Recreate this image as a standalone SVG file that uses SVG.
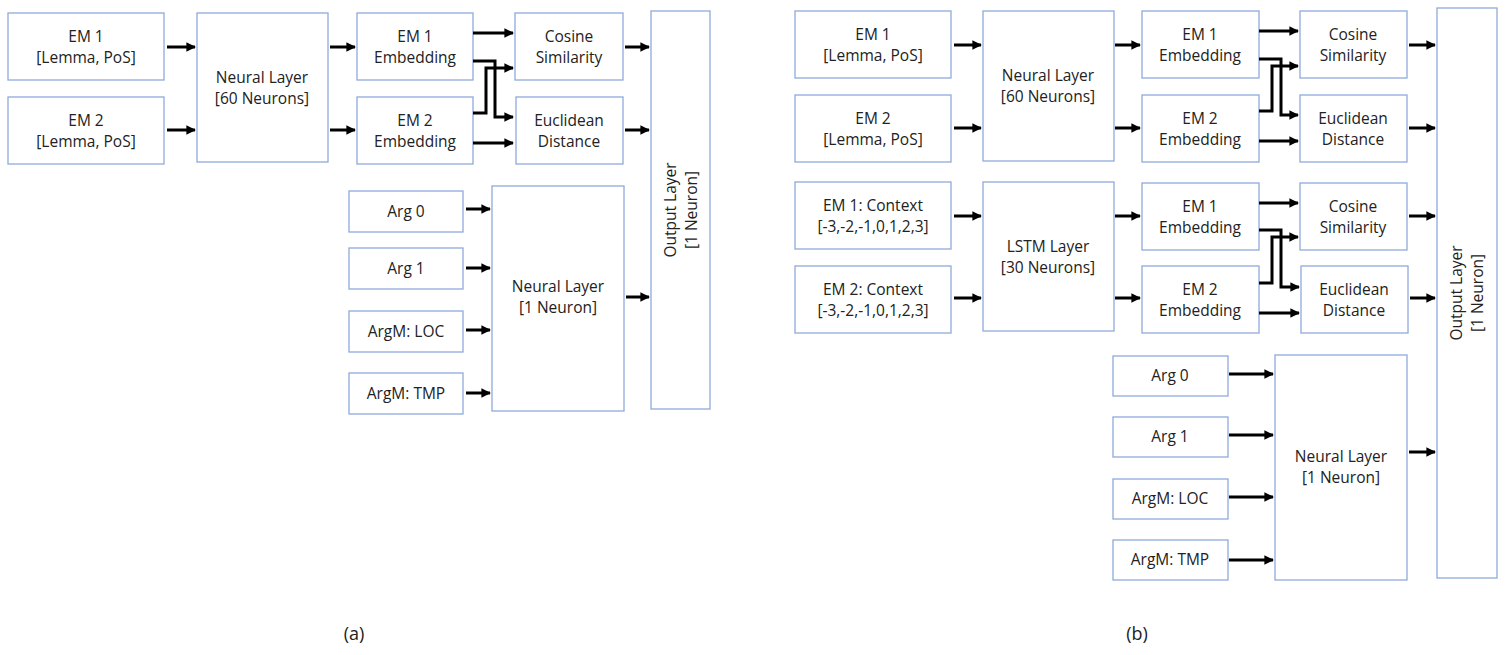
<svg xmlns="http://www.w3.org/2000/svg" width="1506" height="655" viewBox="0 0 1506 655">
<style>
rect{fill:#fff;stroke:#8faadc;stroke-width:1.3}
text{font-family:"Open Sans","Liberation Sans",sans-serif;font-size:15.5px;fill:#222;text-anchor:middle}
.c path,.c line{stroke:#000;stroke-width:3;fill:none;marker-end:url(#a)}
.lbl{font-size:18px}
</style>
<defs><marker id="a" viewBox="0 0 10 10" refX="9" refY="5" markerWidth="3.2" markerHeight="3.2" orient="auto" markerUnits="strokeWidth"><path d="M0,0L10,5L0,10z" fill="#000"/></marker></defs>
<rect width="1506" height="655" style="stroke:none"/>
<!-- panel a -->
<g id="a_em1"><rect x="8" y="13" width="156" height="67"/><text x="86" y="42">EM 1</text><text x="86" y="63">[Lemma, PoS]</text></g>
<g id="a_em2"><rect x="8" y="97" width="156" height="67"/><text x="86" y="126">EM 2</text><text x="86" y="147">[Lemma, PoS]</text></g>
<g id="a_nl"><rect x="197" y="13" width="131" height="149"/><text x="262" y="83">Neural Layer</text><text x="262" y="104">[60 Neurons]</text></g>
<g id="a_e1"><rect x="357" y="13" width="116" height="67"/><text x="415" y="42">EM 1</text><text x="415" y="63">Embedding</text></g>
<g id="a_e2"><rect x="357" y="97" width="116" height="67"/><text x="415" y="126">EM 2</text><text x="415" y="147">Embedding</text></g>
<g id="a_cos"><rect x="515" y="13" width="108" height="67"/><text x="569" y="42">Cosine</text><text x="569" y="63">Similarity</text></g>
<g id="a_euc"><rect x="516" y="97" width="107" height="67"/><text x="569" y="126">Euclidean</text><text x="569" y="147">Distance</text></g>
<g id="a_out"><rect x="651" y="11" width="59" height="398"/><text transform="translate(676,210) rotate(-90)">Output Layer</text><text transform="translate(697,210) rotate(-90)">[1 Neuron]</text></g>
<g id="a_arg0"><rect x="349" y="191" width="114" height="41"/><text x="406" y="217">Arg 0</text></g>
<g id="a_arg1"><rect x="349" y="248" width="114" height="41"/><text x="406" y="274">Arg 1</text></g>
<g id="a_loc"><rect x="349" y="311" width="114" height="41"/><text x="406" y="337">ArgM: LOC</text></g>
<g id="a_tmp"><rect x="349" y="373" width="114" height="41"/><text x="406" y="399">ArgM: TMP</text></g>
<g id="a_nl1"><rect x="492" y="186" width="132" height="225"/><text x="558" y="292">Neural Layer</text><text x="558" y="313">[1 Neuron]</text></g>
<!-- panel b -->
<g id="b_em1"><rect x="795" y="11" width="156" height="67"/><text x="873" y="40">EM 1</text><text x="873" y="61">[Lemma, PoS]</text></g>
<g id="b_em2"><rect x="795" y="95" width="156" height="67"/><text x="873" y="124">EM 2</text><text x="873" y="145">[Lemma, PoS]</text></g>
<g id="b_nl"><rect x="983" y="11" width="131" height="150"/><text x="1048" y="81">Neural Layer</text><text x="1048" y="102">[60 Neurons]</text></g>
<g id="b_e1"><rect x="1142" y="11" width="117" height="67"/><text x="1200" y="40">EM 1</text><text x="1200" y="61">Embedding</text></g>
<g id="b_e2"><rect x="1142" y="95" width="117" height="67"/><text x="1200" y="124">EM 2</text><text x="1200" y="145">Embedding</text></g>
<g id="b_cos"><rect x="1300" y="11" width="107" height="67"/><text x="1353" y="40">Cosine</text><text x="1353" y="61">Similarity</text></g>
<g id="b_euc"><rect x="1300" y="95" width="107" height="67"/><text x="1353" y="124">Euclidean</text><text x="1353" y="145">Distance</text></g>
<g id="b_c1"><rect x="795" y="182" width="156" height="67"/><text x="873" y="211">EM 1: Context</text><text x="873" y="232">[-3,-2,-1,0,1,2,3]</text></g>
<g id="b_c2"><rect x="795" y="266" width="156" height="67"/><text x="873" y="295">EM 2: Context</text><text x="873" y="316">[-3,-2,-1,0,1,2,3]</text></g>
<g id="b_lstm"><rect x="983" y="182" width="131" height="149"/><text x="1048" y="252">LSTM Layer</text><text x="1048" y="273">[30 Neurons]</text></g>
<g id="b_e3"><rect x="1142" y="183" width="117" height="67"/><text x="1200" y="212">EM 1</text><text x="1200" y="233">Embedding</text></g>
<g id="b_e4"><rect x="1142" y="266" width="117" height="67"/><text x="1200" y="295">EM 2</text><text x="1200" y="316">Embedding</text></g>
<g id="b_cos2"><rect x="1300" y="183" width="107" height="67"/><text x="1353" y="212">Cosine</text><text x="1353" y="233">Similarity</text></g>
<g id="b_euc2"><rect x="1301" y="266" width="107" height="67"/><text x="1354" y="295">Euclidean</text><text x="1354" y="316">Distance</text></g>
<g id="b_out"><rect x="1437" y="8" width="60" height="570"/><text transform="translate(1462,293) rotate(-90)">Output Layer</text><text transform="translate(1483,293) rotate(-90)">[1 Neuron]</text></g>
<g id="b_arg0"><rect x="1113" y="356" width="115" height="40"/><text x="1170" y="381">Arg 0</text></g>
<g id="b_arg1"><rect x="1113" y="417" width="115" height="40"/><text x="1170" y="442">Arg 1</text></g>
<g id="b_loc"><rect x="1113" y="479" width="115" height="40"/><text x="1170" y="504">ArgM: LOC</text></g>
<g id="b_tmp"><rect x="1113" y="540" width="115" height="40"/><text x="1170" y="565">ArgM: TMP</text></g>
<g id="b_nl1"><rect x="1275" y="355" width="132" height="225"/><text x="1341" y="462">Neural Layer</text><text x="1341" y="483">[1 Neuron]</text></g>
<text class="lbl" x="354" y="640">(a)</text>
<text class="lbl" x="1137" y="640">(b)</text>
<g class="c">
<line x1="167" y1="47" x2="195" y2="47"/><line x1="167" y1="130" x2="195" y2="130"/>
<line x1="330" y1="47" x2="355" y2="47"/><line x1="330" y1="130" x2="355" y2="130"/>
<line x1="473" y1="33" x2="513" y2="33"/>
<path d="M473,61H495V117H513"/><path d="M473,113H486V68H513"/>
<line x1="473" y1="143" x2="513" y2="143"/>
<line x1="625" y1="47" x2="649" y2="47"/><line x1="625" y1="130" x2="649" y2="130"/>
<line x1="466" y1="209" x2="490" y2="209"/><line x1="466" y1="268" x2="490" y2="268"/>
<line x1="466" y1="330" x2="490" y2="330"/><line x1="466" y1="393" x2="490" y2="393"/>
<line x1="626" y1="297" x2="649" y2="297"/>
<line x1="954" y1="45" x2="981" y2="45"/><line x1="954" y1="128" x2="981" y2="128"/>
<line x1="1115" y1="45" x2="1140" y2="45"/><line x1="1115" y1="128" x2="1140" y2="128"/>
<line x1="1259" y1="31" x2="1298" y2="31"/>
<path d="M1259,59H1281V115H1298"/><path d="M1259,111H1272V66H1298"/>
<line x1="1259" y1="141" x2="1298" y2="141"/>
<line x1="1409" y1="45" x2="1435" y2="45"/><line x1="1409" y1="128" x2="1435" y2="128"/>
<line x1="954" y1="216" x2="981" y2="216"/><line x1="954" y1="298" x2="981" y2="298"/>
<line x1="1115" y1="216" x2="1140" y2="216"/><line x1="1115" y1="298" x2="1140" y2="298"/>
<line x1="1259" y1="203" x2="1298" y2="203"/>
<path d="M1259,230H1281V287H1299"/><path d="M1259,283H1272V237H1298"/>
<line x1="1259" y1="313" x2="1299" y2="313"/>
<line x1="1409" y1="216" x2="1435" y2="216"/><line x1="1410" y1="298" x2="1435" y2="298"/>
<line x1="1229" y1="374" x2="1273" y2="374"/><line x1="1229" y1="435" x2="1273" y2="435"/>
<line x1="1229" y1="497" x2="1273" y2="497"/><line x1="1229" y1="560" x2="1273" y2="560"/>
<line x1="1409" y1="452" x2="1435" y2="452"/>
</g>
</svg>
